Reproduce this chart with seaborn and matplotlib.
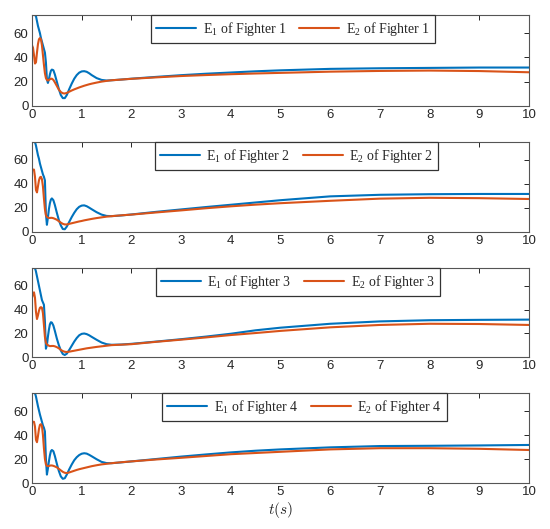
import pandas as pd
import matplotlib
matplotlib.use('Agg')
import matplotlib.pyplot as plt
import seaborn as sns

# time samples (dense in the transient part)
t = [0, 0.02, 0.04, 0.06, 0.08, 0.10, 0.12, 0.14, 0.16, 0.18, 0.20, 0.22, 0.24,
     0.26, 0.28, 0.30, 0.32, 0.34, 0.36, 0.38, 0.40, 0.43, 0.46, 0.50, 0.54,
     0.58, 0.62, 0.66, 0.70, 0.75, 0.80, 0.85, 0.90, 0.95, 1.00, 1.05, 1.10,
     1.15, 1.20, 1.30, 1.40, 1.50, 1.60, 1.80, 2.0, 2.5, 3.0, 3.5, 4.0, 4.5,
     5, 6, 7, 8, 9, 10]

e1_f1 = [75, 75, 75, 75, 74, 70, 66, 63, 60, 56, 53, 50, 47,
         44, 36, 22, 19, 22, 26, 29, 30, 29.5, 26, 20, 14,
         9, 6.5, 6.5, 9, 14, 18.5, 22.5, 25.5, 27.5, 28.5, 28.7, 28.2,
         27, 25.5, 23, 21.5, 21, 21.2, 21.8, 22.5, 24, 25.4, 26.6, 27.6, 28.6,
         29.4, 30.6, 31.1, 31.4, 31.7, 31.7]
e2_f1 = [50, 48, 42, 35, 36, 44, 51, 55, 56, 55, 50, 42, 34,
         27, 23, 21.5, 21, 21.5, 22, 22.5, 22.5, 21.5, 19.5, 16.5, 13.5,
         11.5, 10.5, 10.3, 10.8, 11.8, 12.8, 13.7, 14.5, 15.3, 16, 16.7, 17.3,
         17.9, 18.4, 19.3, 20.1, 20.7, 21.2, 21.8, 22.4, 23.6, 24.7, 25.5, 26.2, 26.8,
         27.3, 28.3, 28.9, 29.2, 28.8, 27.8]

e1_f2 = [75, 75, 75, 75, 72, 68, 64, 61, 57, 54, 51, 48, 46,
         43, 15, 6, 12, 19, 24, 27, 28, 26.5, 22.5, 16, 10,
         5.5, 2.5, 2.3, 4.5, 8.5, 12.5, 16, 19, 21, 22, 22.2, 21.5,
         20.3, 19, 16.5, 14.5, 13.4, 13.2, 13.8, 14.6, 16.8, 18.8, 20.8, 22.7, 24.6,
         26.5, 29.7, 31, 31.5, 31.7, 31.7]
e2_f2 = [51, 52, 52, 46, 35, 33, 38, 43, 45.5, 46, 44, 38, 28,
         19, 14, 12.5, 12, 11.7, 11.7, 11.8, 11.8, 11.5, 11, 10.2, 9,
         7.8, 6.8, 6.3, 6.3, 6.8, 7.3, 7.8, 8.3, 8.8, 9.2, 9.7, 10.1,
         10.5, 10.9, 11.6, 12.2, 12.8, 13.2, 13.9, 14.5, 16.3, 18, 19.8, 21.4, 22.8,
         24, 26, 27.8, 28.5, 28.2, 27.5]

e1_f3 = [75, 75, 75, 75, 72, 68, 64, 60, 56, 52, 48, 46, 44,
         30, 7, 10, 17, 23, 27.5, 29.3, 29, 26.5, 22, 15.5, 10,
         5.5, 2.5, 1.7, 2.8, 6, 9.5, 13, 16, 18.3, 19.5, 19.8, 19.3,
         18.3, 17, 14.5, 12.2, 10.8, 10.3, 10.5, 11.1, 13, 15, 17.2, 19.6, 22.5,
         24.7, 28, 30, 31, 31.3, 31.5]
e2_f3 = [50, 53, 54.5, 50, 38, 32, 35, 39, 41.5, 42, 41.5, 37, 27,
         17, 12, 10.5, 10, 9.5, 9.2, 9.2, 9.3, 9.3, 9.0, 8.3, 7.3,
         6, 5, 4.4, 4.2, 4.5, 4.9, 5.3, 5.7, 6.1, 6.5, 6.9, 7.3,
         7.6, 7.9, 8.5, 9, 9.5, 10, 10.4, 10.8, 12.8, 14.6, 16.5, 18.5, 20.2,
         22, 25, 27, 28, 27.8, 27]

e1_f4 = [75, 75, 75, 75, 72, 68, 64, 60.5, 57, 54, 51, 48, 46,
         43, 20, 7, 12, 18, 23, 26.5, 27.5, 26.5, 22.5, 16, 10,
         5.5, 3.5, 4, 7, 11.5, 15.5, 19, 21.5, 23.3, 24.4, 24.8, 24.5,
         23.5, 22.3, 19.8, 17.6, 16.6, 16.5, 17.2, 18, 20, 22, 23.8, 25.5, 26.9,
         28, 29.7, 30.8, 31, 31.3, 31.7]
e2_f4 = [51, 51, 51, 47, 36, 34, 39, 45, 48.5, 49, 47.5, 40, 29,
         20, 15.5, 14.2, 14, 14.2, 14.5, 14.6, 14.6, 14.3, 13.8, 13, 11.8,
         10.5, 9.3, 8.5, 8.3, 8.8, 9.5, 10.2, 10.9, 11.5, 12, 12.5, 13,
         13.5, 14, 14.8, 15.5, 16, 16.5, 17.3, 18, 19.6, 21, 22.5, 24, 25,
         26, 28, 29, 29, 28.5, 27.5]

fighters = [1, 2, 3, 4]
e1_series = [e1_f1, e1_f2, e1_f3, e1_f4]
e2_series = [e2_f1, e2_f2, e2_f3, e2_f4]
x_ticks = [0, 1, 2, 3, 4, 5, 6, 7, 8, 9, 10]
y_ticks = [0, 20, 40, 60]

blue = '#0072BD'
orange = '#D95319'
grey = '#262626'

sns.set_style('white')
plt.rcParams['font.family'] = ['Liberation Sans', 'DejaVu Sans']
plt.rcParams['mathtext.fontset'] = 'cm'

fig = plt.figure(figsize=(5.5, 5.29), dpi=100)

# axes boxes measured in pixels from the reference: (top, bottom)
boxes = [(15, 106), (142, 232), (268, 357), (393, 483)]
legend_x = [0.525, 0.532, 0.535, 0.548]

for i, n in enumerate(fighters):
    top, bottom = boxes[i]
    ax = fig.add_axes([32 / 550, 1 - bottom / 529, 497 / 550, (bottom - top) / 529])
    df = pd.DataFrame({'t': t, 'E1': e1_series[i], 'E2': e2_series[i]})
    sns.lineplot(data=df, x='t', y='E1', ax=ax, color=blue, linewidth=1.5,
                 label=r'$\mathregular{E_1}$ of Fighter %d' % n)
    sns.lineplot(data=df, x='t', y='E2', ax=ax, color=orange, linewidth=1.5,
                 label=r'$\mathregular{E_2}$ of Fighter %d' % n)
    ax.set_xlim(0, 10)
    ax.set_ylim(0, 75)
    ax.set_xticks(x_ticks)
    ax.set_yticks(y_ticks)
    ax.set_xlabel('')
    ax.set_ylabel('')
    ax.tick_params(direction='in', top=True, right=True, length=3.5, width=0.7,
                   colors=grey, labelsize=9.5, pad=2.5)
    for s in ax.spines.values():
        s.set_color('#555555')
        s.set_linewidth(0.8)
    leg = ax.legend(loc='upper center', bbox_to_anchor=(legend_x[i], 1.0),
                    ncol=2, frameon=True, fancybox=False, borderaxespad=0,
                    handlelength=2.9, columnspacing=0.9, handletextpad=0.45,
                    borderpad=0.35,
                    prop={'family': 'Liberation Serif', 'size': 10})
    leg.get_frame().set_edgecolor('#333333')
    leg.get_frame().set_linewidth(0.9)
    leg.get_frame().set_alpha(1)
    if i == 3:
        ax.set_xlabel(r'$t(s)$', fontsize=11, labelpad=1, color=grey)

fig.savefig('out.png', dpi=100)
